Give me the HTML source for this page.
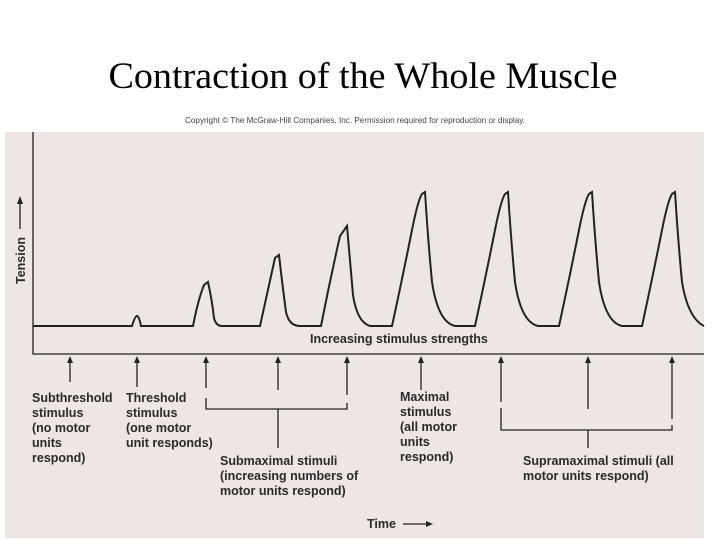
<!DOCTYPE html>
<html><head><meta charset="utf-8"><style>
body{margin:0;width:720px;height:540px;background:#fff;overflow:hidden;position:relative;font-family:"Liberation Sans",Arial,sans-serif}
</style></head><body>
<svg width="720" height="540" style="position:absolute;left:0;top:0" xmlns="http://www.w3.org/2000/svg">
<text x="363" y="88" text-anchor="middle" font-family="Liberation Serif,serif" font-size="37" fill="#000" textLength="509" lengthAdjust="spacingAndGlyphs">Contraction of the Whole Muscle</text>
<text x="355" y="123" text-anchor="middle" font-size="8" fill="#444" textLength="340" lengthAdjust="spacingAndGlyphs">Copyright © The McGraw-Hill Companies, Inc. Permission required for reproduction or display.</text>
<rect x="5" y="132" width="699" height="406" fill="#ede6e3"/>
<g stroke="#222" fill="none" stroke-width="1.3">
<path d="M33 132 V354 H704"/>
<path stroke-width="2" d="M33 326 H132 Q135 316 137 316 Q139 316 141 326 H193 Q198 300 204 285 L208 282 Q212 300 214 318 Q216 326 222 326 H260 Q268 290 275 258 L279 255 Q283 290 286 312 Q289 326 300 326 H321 Q330 280 340 236 L347 226 Q350 260 353 295 Q357 322 370 326 H392 Q402 280 412 230 Q418 200 422 194 L425 192 Q428 240 432 282 Q438 322 455 326 H475 Q485 280 495 230 Q501 200 505 194 L508 192 Q511 240 515 282 Q521 322 538 326 H559 Q569 280 579 230 Q585 200 589 194 L592 192 Q595 240 599 282 Q605 322 622 326 H642 Q652 280 662 230 Q668 200 672 194 L675 192 Q678 240 682 282 Q688 318 704 326"/>
<path d="M70 360 V382 M137 360 V387 M206 360 V388 M278 360 V390 M347 360 V395 M421 360 V390 M501 360 V402 M588 360 V409 M672 360 V419"/>
<path d="M206 398 V409 H347 V403 M278 409 V448"/>
<path d="M501 408 V430 H672 V425 M588 430 V448"/>
<path d="M20 229 V202 M403 524 H428"/>
</g>
<g fill="#222">
<path d="M70 356 l-3 7 h6z M137 356 l-3 7 h6z M206 356 l-3 7 h6z M278 356 l-3 7 h6z M347 356 l-3 7 h6z M421 356 l-3 7 h6z M501 356 l-3 7 h6z M588 356 l-3 7 h6z M672 356 l-3 7 h6z"/>
<path d="M20 196 l-3 8 h6z M433 524 l-7 -3 v6z"/>
</g>
<g font-size="12.5" font-weight="bold" fill="#2a2a2a">
<text x="25" y="284" transform="rotate(-90 25 284)">Tension</text>
<text x="310" y="343">Increasing stimulus strengths</text>
<text x="32" y="402">Subthreshold<tspan x="32" dy="15">stimulus</tspan><tspan x="32" dy="15">(no motor</tspan><tspan x="32" dy="15">units</tspan><tspan x="32" dy="15">respond)</tspan></text>
<text x="126" y="402">Threshold<tspan x="126" dy="15">stimulus</tspan><tspan x="126" dy="15">(one motor</tspan><tspan x="126" dy="15">unit responds)</tspan></text>
<text x="220" y="465">Submaximal stimuli<tspan x="220" dy="15">(increasing numbers of</tspan><tspan x="220" dy="15">motor units respond)</tspan></text>
<text x="400" y="401">Maximal<tspan x="400" dy="15">stimulus</tspan><tspan x="400" dy="15">(all motor</tspan><tspan x="400" dy="15">units</tspan><tspan x="400" dy="15">respond)</tspan></text>
<text x="523" y="465">Supramaximal stimuli (all<tspan x="523" dy="15">motor units respond)</tspan></text>
<text x="367" y="528">Time</text>
</g>
</svg>
</body></html>
